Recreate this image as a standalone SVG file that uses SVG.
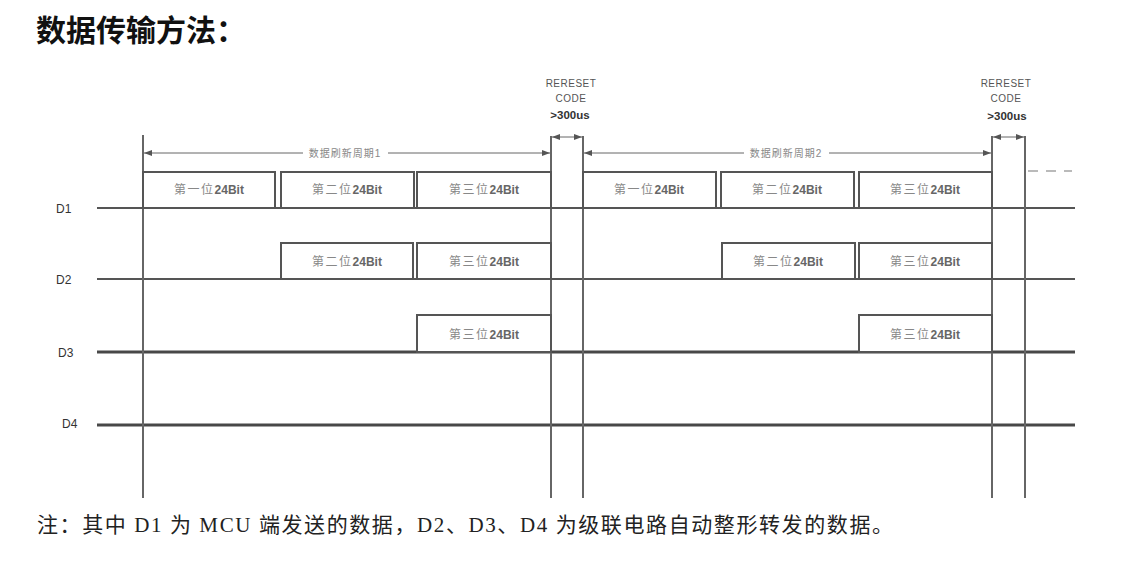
<svg xmlns="http://www.w3.org/2000/svg" width="1138" height="566" viewBox="0 0 1138 566">
<style>
.v{stroke:#666;stroke-width:2;fill:none}
.base{stroke:#555;stroke-width:2;fill:none}
.base3{stroke:#484848;stroke-width:3.2;fill:none}
.box{stroke:#555;stroke-width:2;fill:#fff}
.arr{stroke:#666;stroke-width:1;fill:none}
.bt{font-family:"Liberation Sans","Noto Sans CJK SC",sans-serif;font-size:12px;fill:#888;text-anchor:middle;letter-spacing:1.5px}
.bt tspan{font-weight:bold;fill:#666;letter-spacing:0}
.per{font-family:"Liberation Sans","Noto Sans CJK SC",sans-serif;font-size:10px;fill:#888;text-anchor:middle;letter-spacing:1px}
.rs{font-family:"Liberation Sans",sans-serif;font-size:10px;fill:#555;text-anchor:middle;letter-spacing:0.5px}
.rsb{font-family:"Liberation Sans",sans-serif;font-size:11.5px;font-weight:bold;fill:#333;text-anchor:middle}
.lab{font-family:"Liberation Sans",sans-serif;font-size:12px;fill:#333}
</style>
<defs>
<marker id="ah" viewBox="0 0 8 6" refX="8" refY="3" markerWidth="8" markerHeight="6" markerUnits="userSpaceOnUse" orient="auto-start-reverse">
<path d="M0,0 L8,3 L0,6 z" fill="#555"/>
</marker>
</defs>
<rect width="1138" height="566" fill="#fff"/>
<g id="title">
<text x="36" y="41" font-family="'Noto Sans CJK SC',sans-serif" font-size="30" font-weight="bold" fill="#111">数据传输方法：</text>
</g>
<g id="connectors">
<line class="base" x1="97" y1="208" x2="1075" y2="208"/>
<line class="base" x1="97" y1="279" x2="1075" y2="279"/>
<line class="base3" x1="97" y1="352" x2="1075" y2="352"/>
<line class="base3" x1="97" y1="425" x2="1075" y2="425"/>
<line class="v" x1="143" y1="135" x2="143" y2="498"/>
<line class="v" x1="551" y1="136" x2="551" y2="498"/>
<line class="v" x1="583" y1="136" x2="583" y2="498"/>
<line class="v" x1="992" y1="136" x2="992" y2="498"/>
<line class="v" x1="1025" y1="136" x2="1025" y2="498"/>
<line class="arr" x1="144" y1="153" x2="303" y2="153" marker-start="url(#ah)"/>
<line class="arr" x1="388" y1="153" x2="550" y2="153" marker-end="url(#ah)"/>
<line class="arr" x1="584" y1="153" x2="744" y2="153" marker-start="url(#ah)"/>
<line class="arr" x1="829" y1="153" x2="991" y2="153" marker-end="url(#ah)"/>
<line class="arr" x1="552" y1="137" x2="582" y2="137" marker-start="url(#ah)" marker-end="url(#ah)"/>
<line class="arr" x1="993" y1="137" x2="1024" y2="137" marker-start="url(#ah)" marker-end="url(#ah)"/>
<line x1="1028" y1="171" x2="1072" y2="171" stroke="#777" stroke-width="1.2" stroke-dasharray="10 8"/>
</g>
<g id="period1"><text class="per" x="345" y="157">数据刷新周期1</text></g>
<g id="period2"><text class="per" x="786" y="157">数据刷新周期2</text></g>
<g id="reset1">
<text class="rs" x="571" y="87">RERESET</text>
<text class="rs" x="571" y="102">CODE</text>
<text class="rsb" x="570" y="119">&gt;300us</text>
</g>
<g id="reset2">
<text class="rs" x="1006" y="87">RERESET</text>
<text class="rs" x="1006" y="102">CODE</text>
<text class="rsb" x="1007" y="120">&gt;300us</text>
</g>
<g id="labels">
<text class="lab" x="56" y="213">D1</text>
<text class="lab" x="56" y="284">D2</text>
<text class="lab" x="58" y="357">D3</text>
<text class="lab" x="62" y="428">D4</text>
</g>
<g id="d1-b1"><rect class="box" x="143" y="172" width="132" height="36"/><text class="bt" x="209" y="194">第一位<tspan>24Bit</tspan></text></g>
<g id="d1-b2"><rect class="box" x="281" y="172" width="133" height="36"/><text class="bt" x="347" y="194">第二位<tspan>24Bit</tspan></text></g>
<g id="d1-b3"><rect class="box" x="417" y="172" width="134" height="36"/><text class="bt" x="484" y="194">第三位<tspan>24Bit</tspan></text></g>
<g id="d1-b4"><rect class="box" x="583" y="172" width="133" height="36"/><text class="bt" x="649" y="194">第一位<tspan>24Bit</tspan></text></g>
<g id="d1-b5"><rect class="box" x="721" y="172" width="133" height="36"/><text class="bt" x="787" y="194">第二位<tspan>24Bit</tspan></text></g>
<g id="d1-b6"><rect class="box" x="859" y="172" width="133" height="36"/><text class="bt" x="925" y="194">第三位<tspan>24Bit</tspan></text></g>
<g id="d2-b1"><rect class="box" x="281" y="243" width="132" height="36"/><text class="bt" x="347" y="266">第二位<tspan>24Bit</tspan></text></g>
<g id="d2-b2"><rect class="box" x="417" y="243" width="134" height="36"/><text class="bt" x="484" y="266">第三位<tspan>24Bit</tspan></text></g>
<g id="d2-b3"><rect class="box" x="722" y="243" width="133" height="36"/><text class="bt" x="788" y="266">第二位<tspan>24Bit</tspan></text></g>
<g id="d2-b4"><rect class="box" x="859" y="243" width="133" height="36"/><text class="bt" x="925" y="266">第三位<tspan>24Bit</tspan></text></g>
<g id="d3-b1"><rect class="box" x="417" y="315" width="134" height="37"/><text class="bt" x="484" y="339">第三位<tspan>24Bit</tspan></text></g>
<g id="d3-b2"><rect class="box" x="859" y="315" width="133" height="37"/><text class="bt" x="925" y="339">第三位<tspan>24Bit</tspan></text></g>
<g id="note">
<text x="37" y="532" font-family="'Liberation Serif','Noto Sans CJK SC',serif" font-size="21" fill="#222" textLength="856" lengthAdjust="spacing">注：其中 D1 为 MCU 端发送的数据，D2、D3、D4 为级联电路自动整形转发的数据。</text>
</g>
</svg>
